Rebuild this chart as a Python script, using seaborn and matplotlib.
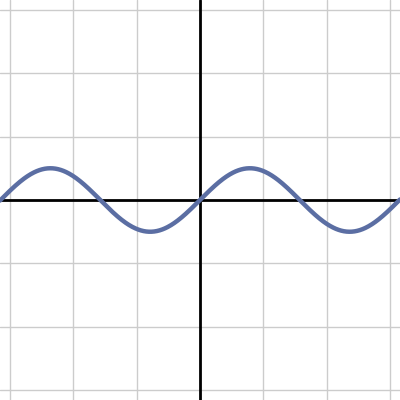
import numpy as np
import pandas as pd
import seaborn as sns
import matplotlib.pyplot as plt

# curve: y = amplitude * sin(freq * x)
amplitude = 0.5
freq = 2.0
x_range = [-3.15, 3.15]
grid_ticks = [-3, -2, -1, 0, 1, 2, 3]

x = np.linspace(x_range[0], x_range[1], 600)
df = pd.DataFrame({"x": x, "y": amplitude * np.sin(freq * x)})

sns.set_style("white")
fig = plt.figure(figsize=(4, 4), dpi=100)
ax = fig.add_axes([0, 0, 1, 1])

for t in grid_ticks:
    ax.axvline(t, color="#cccccc", lw=1, zorder=0)
    ax.axhline(t, color="#cccccc", lw=1, zorder=0)
ax.axhline(0, color="black", lw=2, zorder=1)
ax.axvline(0, color="black", lw=2, zorder=1)

sns.lineplot(data=df, x="x", y="y", color="#5b6ea3", lw=3.2, ax=ax, zorder=2)

ax.set_xlim(x_range)
ax.set_ylim(x_range)
ax.set_xticks([])
ax.set_yticks([])
ax.set_xlabel("")
ax.set_ylabel("")
for s in ax.spines.values():
    s.set_visible(False)

fig.savefig("out.png", dpi=100)
